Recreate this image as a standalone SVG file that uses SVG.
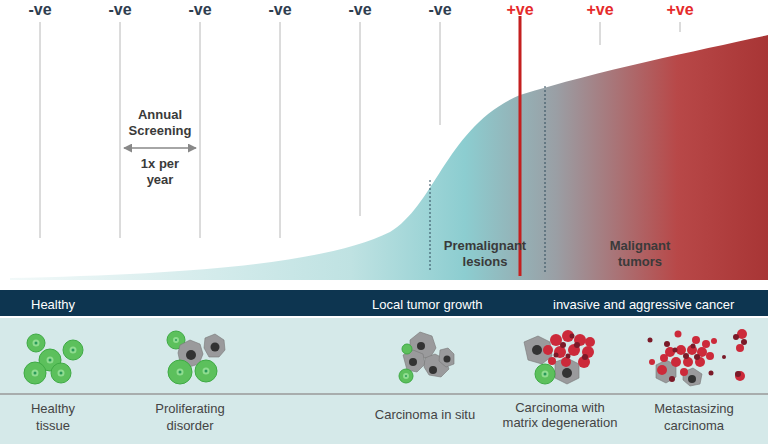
<svg xmlns="http://www.w3.org/2000/svg" width="768" height="444" viewBox="0 0 768 444">
<style>
.t{font-family:"Liberation Sans",Arial,sans-serif}
.ve{font-size:16px;font-weight:bold;fill:#2e3d4f;text-anchor:middle}
.pv{fill:#e52b2b}
.vl{stroke:#b8b8b8;stroke-width:1}
.lab{font-size:13px;fill:#444;text-anchor:middle}
.bl{font-size:13px;fill:#fff}
.st{font-size:13px;font-weight:bold;fill:#3a3a3a;text-anchor:middle}
.g{fill:#5cc05c;stroke:#3faa45;stroke-width:1}.gi{fill:#2a9a5a;stroke:#8fdc8f;stroke-width:2}
.c{fill:#9a9a9c;stroke:#777;stroke-width:.6}.cn{fill:#333}
.r{fill:#cc2a3a}.rd{fill:#7a1a28}
</style>
<defs>
<linearGradient id="cg" x1="0" x2="1">
<stop offset="0" stop-color="#f2f9f9"/>
<stop offset="0.45" stop-color="#bfe2e2"/>
<stop offset="0.6" stop-color="#8ccdd0"/>
<stop offset="0.72" stop-color="#9a9fa5"/>
<stop offset="0.88" stop-color="#b84848"/>
<stop offset="1" stop-color="#a83535"/>
</linearGradient>
<marker id="ah" viewBox="0 0 10 10" refX="9" refY="5" markerWidth="6" markerHeight="6" orient="auto-start-reverse"><path d="M0,0L10,5L0,10z" fill="#888"/></marker>
</defs>
<rect width="768" height="444" fill="#fff"/>
<g id="curve">
<path d="M10,278 C200,274 330,262 390,232 C435,205 448,125 520,95 C600,70 700,50 768,35 L768,280 L10,280 Z" fill="url(#cg)"/>
</g>
<g id="connectors">
<line class="vl" x1="40" y1="22" x2="40" y2="238"/>
<line class="vl" x1="120" y1="22" x2="120" y2="238"/>
<line class="vl" x1="200" y1="22" x2="200" y2="238"/>
<line class="vl" x1="280" y1="22" x2="280" y2="238"/>
<line class="vl" x1="360" y1="22" x2="360" y2="216"/>
<line class="vl" x1="440" y1="22" x2="440" y2="125"/>
<line class="vl" x1="600" y1="22" x2="600" y2="45"/>
<line class="vl" x1="680" y1="22" x2="680" y2="32"/>
<line x1="520" y1="16" x2="520" y2="276" stroke="#c41f1f" stroke-width="3"/>
<line x1="430" y1="180" x2="430" y2="272" stroke="#2e4a5a" stroke-width="1" stroke-dasharray="2,2"/>
<line x1="545" y1="86" x2="545" y2="272" stroke="#2e4a5a" stroke-width="1" stroke-dasharray="2,2"/>
<line x1="124" y1="148" x2="196" y2="148" stroke="#888" stroke-width="1.5" marker-start="url(#ah)" marker-end="url(#ah)"/>
</g>
<g id="labels" class="t">
<text class="ve" x="40" y="15">-ve</text>
<text class="ve" x="120" y="15">-ve</text>
<text class="ve" x="200" y="15">-ve</text>
<text class="ve" x="280" y="15">-ve</text>
<text class="ve" x="360" y="15">-ve</text>
<text class="ve" x="440" y="15">-ve</text>
<text class="ve pv" x="520" y="15">+ve</text>
<text class="ve pv" x="600" y="15">+ve</text>
<text class="ve pv" x="680" y="15">+ve</text>
<text class="st" x="160" y="119">Annual</text>
<text class="st" x="160" y="135">Screening</text>
<text class="st" x="160" y="168">1x per</text>
<text class="st" x="160" y="184">year</text>
<text class="st" x="485" y="250">Premalignant</text>
<text class="st" x="485" y="266">lesions</text>
<text class="st" x="640" y="250">Malignant</text>
<text class="st" x="640" y="266">tumors</text>
</g>
<g id="band">
<rect x="0" y="290" width="768" height="26" fill="#0d3550"/>
<rect x="0" y="318" width="768" height="126" fill="#d5e9e9"/>
<line x1="0" y1="394" x2="768" y2="394" stroke="#999" stroke-width="1.5"/>
<text class="t bl" x="31" y="309">Healthy</text>
<text class="t bl" x="372" y="309">Local tumor growth</text>
<text class="t bl" x="553" y="309">invasive and aggressive cancer</text>
</g>
<g id="healthy">
<circle class="g" cx="36" cy="343" r="9"/><circle class="gi" cx="36" cy="343" r="2.5"/>
<circle class="g" cx="73" cy="350" r="10"/><circle class="gi" cx="73" cy="350" r="2.5"/>
<circle class="g" cx="50" cy="360" r="11"/><circle class="gi" cx="50" cy="360" r="2.5"/>
<circle class="g" cx="35" cy="373" r="11"/><circle class="gi" cx="35" cy="373" r="2.5"/>
<circle class="g" cx="61" cy="373" r="10"/><circle class="gi" cx="61" cy="373" r="2.5"/>
<text class="t lab" x="53" y="413">Healthy</text><text class="t lab" x="53" y="430">tissue</text>
</g>
<g id="proliferating">
<circle class="g" cx="176" cy="340" r="9"/><circle class="gi" cx="176" cy="340" r="2"/>
<path class="c" d="M180,345 l10,-5 l10,4 l3,10 l-4,10 l-10,3 l-9,-5 l-2,-9z"/><circle class="cn" cx="191" cy="355" r="5"/>
<path class="c" d="M205,338 l10,-4 l9,6 l1,10 l-6,7 l-10,0 l-5,-9z"/><circle class="cn" cx="215" cy="347" r="4.5"/>
<circle class="g" cx="180" cy="372" r="12"/><circle class="gi" cx="180" cy="372" r="2.5"/>
<circle class="g" cx="206" cy="371" r="11"/><circle class="gi" cx="206" cy="371" r="2.5"/>
<text class="t lab" x="190" y="413">Proliferating</text><text class="t lab" x="190" y="430">disorder</text>
</g>
<g id="insitu">
<path class="c" d="M410,340 l10,-8 l12,4 l4,12 l-6,10 l-12,0 l-8,-8z"/><circle class="cn" cx="421" cy="346" r="4"/>
<path class="c" d="M403,355 l10,-5 l10,4 l2,10 l-8,8 l-10,-2z"/><circle class="cn" cx="413" cy="362" r="4"/>
<path class="c" d="M425,358 l10,-4 l10,5 l4,10 l-8,8 l-12,-2 l-5,-8z"/><circle class="cn" cx="433" cy="370" r="4"/>
<path class="c" d="M440,350 l8,-2 l6,6 l0,10 l-8,3 l-7,-6z"/><circle class="cn" cx="447" cy="359" r="3.5"/>
<circle class="g" cx="407" cy="349" r="5"/>
<circle class="g" cx="406" cy="376" r="7"/><circle class="gi" cx="406" cy="376" r="2"/>
<text class="t lab" x="425" y="419">Carcinoma in situ</text>
</g>
<g id="matrix">
<path class="c" d="M524,342 l14,-6 l12,6 l2,14 l-10,8 l-14,-4z"/><circle class="cn" cx="537" cy="350" r="5"/>
<path class="c" d="M555,362 l12,-4 l12,6 l0,14 l-12,6 l-12,-6z"/><circle class="cn" cx="567" cy="373" r="5"/>
<g class="r"><circle cx="556" cy="340" r="6"/><circle cx="568" cy="336" r="6"/><circle cx="580" cy="340" r="6"/><circle cx="560" cy="352" r="6"/><circle cx="574" cy="350" r="6"/><circle cx="588" cy="352" r="6"/><circle cx="584" cy="362" r="6"/><circle cx="566" cy="362" r="5"/><circle cx="548" cy="350" r="5"/><circle cx="590" cy="342" r="5"/><circle cx="552" cy="361" r="4"/></g>
<g class="rd"><circle cx="563" cy="345" r="3"/><circle cx="577" cy="345" r="3"/><circle cx="585" cy="357" r="3"/><circle cx="568" cy="356" r="2.5"/><circle cx="572" cy="336" r="2.5"/><circle cx="556" cy="355" r="2.5"/></g>
<circle class="g" cx="545" cy="374" r="10"/><circle class="gi" cx="545" cy="374" r="2.5"/>
<text class="t lab" x="560" y="412">Carcinoma with</text><text class="t lab" x="560" y="427">matrix degeneration</text>
</g>
<g id="metastasizing">
<path class="c" d="M656,365 l10,-5 l10,5 l0,12 l-10,6 l-10,-5z"/>
<path class="c" d="M683,372 l10,-4 l9,6 l-2,10 l-10,2 l-7,-6z"/><circle class="cn" cx="692" cy="379" r="4"/>
<g class="r"><circle cx="670" cy="352" r="5"/><circle cx="681" cy="350" r="5"/><circle cx="692" cy="350" r="5"/><circle cx="702" cy="352" r="5"/><circle cx="676" cy="362" r="5"/><circle cx="688" cy="362" r="5"/><circle cx="700" cy="362" r="5"/><circle cx="662" cy="370" r="5"/><circle cx="684" cy="372" r="4"/><circle cx="706" cy="344" r="4"/><circle cx="696" cy="340" r="4"/><circle cx="742" cy="334" r="5"/><circle cx="740" cy="348" r="4"/><circle cx="740" cy="376" r="5"/><circle cx="678" cy="334" r="3.5"/><circle cx="714" cy="341" r="3"/><circle cx="652" cy="362" r="3"/><circle cx="664" cy="358" r="4"/><circle cx="710" cy="356" r="4"/></g>
<g class="rd"><circle cx="667" cy="344" r="3"/><circle cx="686" cy="356" r="3"/><circle cx="697" cy="357" r="3"/><circle cx="672" cy="379" r="3"/><circle cx="736" cy="337" r="3"/><circle cx="744" cy="342" r="3"/><circle cx="738" cy="374" r="3"/><circle cx="711" cy="373" r="2.5"/><circle cx="724" cy="357" r="2"/><circle cx="650" cy="340" r="2.5"/><circle cx="675" cy="350" r="2.5"/><circle cx="693" cy="346" r="2.5"/></g>
<text class="t lab" x="694" y="413">Metastasizing</text><text class="t lab" x="694" y="430">carcinoma</text>
</g>
</svg>
